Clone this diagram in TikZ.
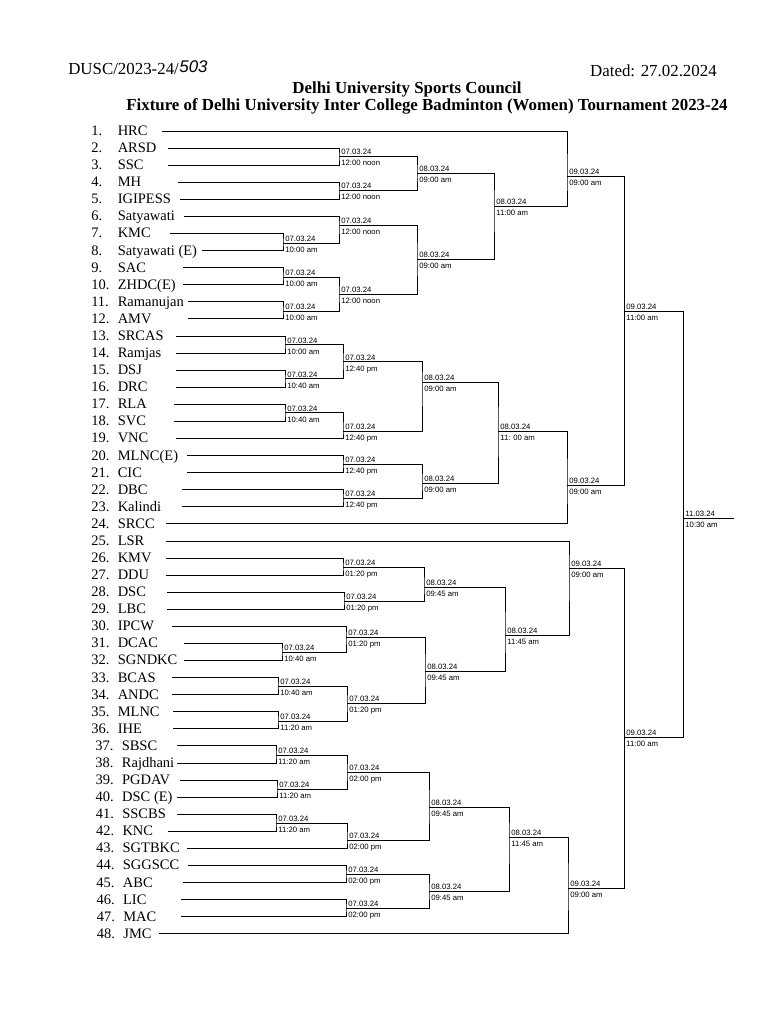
\documentclass[tikz,border=0pt]{standalone}
\usepackage{fontspec}
\setmainfont{Liberation Serif}
\newfontfamily\labfont{Liberation Sans}
\usepackage{tikz}
\usetikzlibrary{positioning}
\tikzset{
  num/.style={anchor=base west,inner sep=0pt,font=\fontsize{10.3}{12}\selectfont},
  team/.style={anchor=base west,inner sep=0pt,font=\fontsize{10.3}{12}\selectfont},
  wire/.style={line width=0.6pt},
  dlab/.style={anchor=south west,inner sep=0.6pt,xshift=0.9pt,font=\labfont\fontsize{5.5}{6}\selectfont},
  tlab/.style={anchor=north west,inner sep=0.6pt,xshift=0.9pt,yshift=-2.2pt,font=\labfont\fontsize{5.5}{6}\selectfont},
  title/.style={inner sep=0pt,font=\bfseries\fontsize{12}{14}\selectfont},
  head/.style={inner sep=0pt,font=\fontsize{12}{14}\selectfont},
}
% one match: name, junction, upper input, lower input, date, time
\newcommand{\fixture}[6]{%
  \coordinate (#1) at #2;
  \draw[wire] (#3) -| (#1) |- (#4);
  \node[dlab] at (#1) {#5};
  \node[tlab] at (#1) {#6};
}

\begin{document}
\begin{tikzpicture}[x=0.025cm,y=-0.025cm]
\useasboundingbox (0,0) rectangle (768,1024);

% header
\node[head,anchor=base west] (ref) at (68,75) {DUSC/2023-24/};
\node[inner sep=0pt,anchor=base west,yshift=1.5pt,font=\labfont\itshape\fontsize{12}{14}\selectfont] (no) at (ref.base east) {503};
\node[head,anchor=base east] (dated) at (717,77) {Dated: 27.02.2024};
\node[title,anchor=base] (council) at (407,94) {Delhi University Sports Council};
\node[title,anchor=base] (fixture) at (427,111) {Fixture of Delhi University Inter College Badminton (Women) Tournament 2023-24};

% teams: number/name/start of line
\foreach \i/\name/\sx in {1/HRC/162,2/ARSD/168,3/SSC/168,4/MH/178,5/IGIPESS/180,
  6/Satyawati/184,7/KMC/170,8/Satyawati (E)/202,9/SAC/183,10/ZHDC(E)/183,
  11/Ramanujan/188,12/AMV/188,13/SRCAS/176,14/Ramjas/176,15/DSJ/176,16/DRC/176,
  17/RLA/174,18/SVC/174,19/VNC/176,20/MLNC(E)/187,21/CIC/187,22/DBC/182,
  23/Kalindi/182,24/SRCC/166,25/LSR/166,26/KMV/166,27/DDU/166,28/DSC/167,
  29/LBC/167,30/IPCW/172,31/DCAC/184,32/SGNDKC/184,33/BCAS/172,34/ANDC/172,
  35/MLNC/173,36/IHE/173,37/SBSC/177,38/Rajdhani/177,39/PGDAV/180,
  40/DSC (E)/177,41/SSCBS/177,42/KNC/168,43/SGTBKC/187,44/SGGSCC/188,
  45/ABC/183,46/LIC/181,47/MAC/181,48/JMC/159}{
  \pgfmathsetmacro\ry{131+(\i-1)*17.08}
  \pgfmathsetmacro\nx{\i>36 ? 95+0.15*(\i-37) : 91}
  \node[num] (n\i) at (\nx,\ry+4.5) {\i.};
  \node[team] (c\i) at (\nx+26.5,\ry+4.5) {\name};
  \coordinate (t\i) at (\sx,\ry);
}

% upper half
\fixture{A1}{(339,156)}{t2}{t3}{07.03.24}{12:00 noon}
\fixture{A2}{(339,190)}{t4}{t5}{07.03.24}{12:00 noon}
\fixture{A3}{(283,243)}{t7}{t8}{07.03.24}{10:00 am}
\fixture{A4}{(339,225)}{t6}{A3}{07.03.24}{12:00 noon}
\fixture{A5}{(283,277)}{t9}{t10}{07.03.24}{10:00 am}
\fixture{A6}{(283,311)}{t11}{t12}{07.03.24}{10:00 am}
\fixture{A7}{(339,294)}{A5}{A6}{07.03.24}{12:00 noon}
\fixture{B1}{(417,173)}{A1}{A2}{08.03.24}{09:00 am}
\fixture{B2}{(417,259)}{A4}{A7}{08.03.24}{09:00 am}
\fixture{C1}{(494,206)}{B1}{B2}{08.03.24}{11:00 am}
\fixture{D1}{(567,176)}{t1}{C1}{09.03.24}{09:00 am}

\fixture{E1}{(285,344.5)}{t13}{t14}{07.03.24}{10:00 am}
\fixture{E2}{(285,378.6)}{t15}{t16}{07.03.24}{10:40 am}
\fixture{E3}{(285,412.8)}{t17}{t18}{07.03.24}{10:40 am}
\fixture{E4}{(343,361.5)}{E1}{E2}{07.03.24}{12:40 pm}
\fixture{E5}{(343,431)}{E3}{t19}{07.03.24}{12:40 pm}
\fixture{E6}{(343,464)}{t20}{t21}{07.03.24}{12:40 pm}
\fixture{E7}{(343,498)}{t22}{t23}{07.03.24}{12:40 pm}
\fixture{F1}{(422,382)}{E4}{E5}{08.03.24}{09:00 am}
\fixture{F2}{(422,483)}{E6}{E7}{08.03.24}{09:00 am}
\fixture{G1}{(498,431)}{F1}{F2}{08.03.24}{11: 00 am}
\fixture{H1}{(567,485)}{G1}{t24}{09.03.24}{09:00 am}
\fixture{I1}{(624,311)}{D1}{H1}{09.03.24}{11:00 am}

% lower half
\fixture{K1}{(343,567)}{t26}{t27}{07.03.24}{01:20 pm}
\fixture{K2}{(344,601)}{t28}{t29}{07.03.24}{01:20 pm}
\fixture{K3}{(282,652)}{t31}{t32}{07.03.24}{10:40 am}
\fixture{K4}{(346,637)}{t30}{K3}{07.03.24}{01:20 pm}
\fixture{K5}{(278,686)}{t33}{t34}{07.03.24}{10:40 am}
\fixture{K6}{(278,721)}{t35}{t36}{07.03.24}{11:20 am}
\fixture{K7}{(347,703)}{K5}{K6}{07.03.24}{01:20 pm}
\fixture{L1}{(424,587)}{K1}{K2}{08.03.24}{09:45 am}
\fixture{L2}{(425,671)}{K4}{K7}{08.03.24}{09:45 am}
\fixture{M1}{(505,635)}{L1}{L2}{08.03.24}{11:45 am}
\fixture{N1}{(569,568)}{t25}{M1}{09.03.24}{09:00 am}

\fixture{P1}{(276,755)}{t37}{t38}{07.03.24}{11:20 am}
\fixture{P2}{(277,789)}{t39}{t40}{07.03.24}{11:20 am}
\fixture{P3}{(276,823)}{t41}{t42}{07.03.24}{11:20 am}
\fixture{Q1}{(347,772)}{P1}{P2}{07.03.24}{02:00 pm}
\fixture{Q2}{(347,840)}{P3}{t43}{07.03.24}{02:00 pm}
\fixture{Q3}{(346,874)}{t44}{t45}{07.03.24}{02:00 pm}
\fixture{Q4}{(346,908)}{t46}{t47}{07.03.24}{02:00 pm}
\fixture{R1}{(429,807)}{Q1}{Q2}{08.03.24}{09:45 am}
\fixture{R2}{(429,891)}{Q3}{Q4}{08.03.24}{09:45 am}
\fixture{S1}{(509,837)}{R1}{R2}{08.03.24}{11:45 am}
\fixture{T1}{(568,888)}{S1}{t48}{09.03.24}{09:00 am}
\fixture{J1}{(624,737)}{N1}{T1}{09.03.24}{11:00 am}

% final
\fixture{final}{(683,518)}{I1}{J1}{11.03.24}{10:30 am}
\coordinate (champ) at (734,518);
\draw[wire] (final) -- (champ);
\end{tikzpicture}
\end{document}
